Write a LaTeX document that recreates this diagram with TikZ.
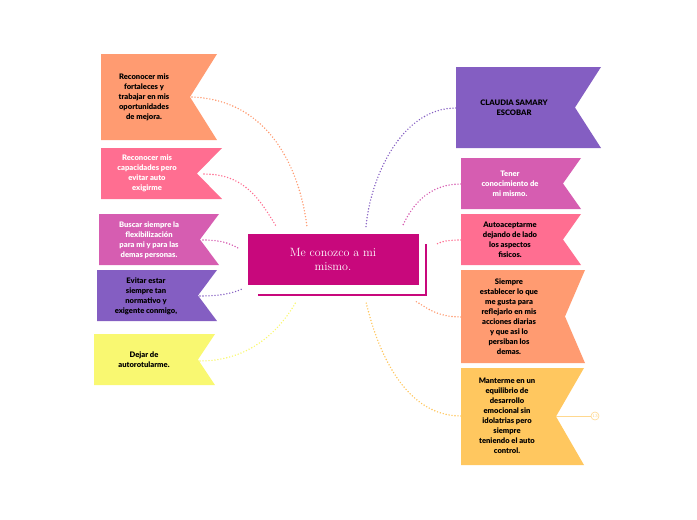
\documentclass[tikz,border=0pt]{standalone}
\usepackage{fontspec}
\setsansfont{Lato}
\newfontfamily\boxfont{Lato Black}
\begin{document}
\begin{tikzpicture}[x=1pt,y=-1pt,
  txt/.style={font=\boxfont\fontsize{7.6}{10}\selectfont,align=center,inner sep=0pt},
  conn/.style={line width=1.6pt,line cap=round,dash pattern=on 0pt off 3pt}]
\definecolor{cOr}{HTML}{FF9B71}
\definecolor{cPk}{HTML}{FF6E91}
\definecolor{cMg}{HTML}{D65DB1}
\definecolor{cPu}{HTML}{845EC2}
\definecolor{cYe}{HTML}{F9F871}
\definecolor{cYo}{HTML}{FFC75F}
\definecolor{cCe}{HTML}{C8087C}
\useasboundingbox (0,0) rectangle (697,520);
% ribbon: #1 color, x1,x2,y1,y2,notch x
\newcommand\ribbon[6]{\fill[#1] (#2,#4) -- (#3,#4) -- (#6,{(#4+#5)/2}) -- (#3,#5) -- (#2,#5) -- cycle;}
% left
\ribbon{cOr}{101}{217}{54}{140}{190}
\ribbon{cPk}{101}{222}{148}{199}{197}
\ribbon{cMg}{99}{219}{214}{265}{200}
\ribbon{cPu}{97}{217}{270}{321}{198}
\ribbon{cYe}{94}{215}{334}{385}{198}
% right
\ribbon{cPu}{456}{601}{67}{148}{575}
\ribbon{cMg}{461}{581}{158}{209}{563}
\ribbon{cPk}{461}{581}{214}{265}{563}
\ribbon{cOr}{461}{585}{270}{363}{565}
\ribbon{cYo}{461}{584}{368}{465}{556}
% central
\draw[cCe,line width=2.5pt] (258,295) -- (426,295) -- (426,244);
\fill[cCe] (248,234) rectangle (419,285);
\node[font=\fontsize{12}{14}\selectfont,text=white,align=center] (c) at (333,259) {Me conozco a mi\\mismo.};
% text
\node[txt] (l1) at (144,97) {Reconocer mis\\fortaleces y\\trabajar en mis\\oportunidades\\de mejora.};
\node[txt,text=white] (l2) at (147,173) {Reconocer mis\\capacidades pero\\evitar auto\\exigirme};
\node[txt,text=white] (l3) at (149,240) {Buscar siempre la\\flexibilización\\para mi y para las\\demas personas.};
\node[txt] (l4) at (146,296) {Evitar estar\\siempre tan\\normativo y\\exigente conmigo,};
\node[txt] (l5) at (144,360) {Dejar de\\autorotularme.};
\node[txt] (r1) at (514,108) {CLAUDIA SAMARY\\ESCOBAR};
\node[txt,text=white] (r2) at (510,184) {Tener\\conocimiento de\\mi mismo.};
\node[txt] (r3) at (510,240) {Autoaceptarme\\dejando de lado\\los aspectos\\fisicos.};
\node[txt] (r4) at (509,317) {Siempre\\establecer lo que\\me gusta para\\reflejarlo en mis\\acciones diarias\\y que asi lo\\persiban los\\demas.};
\node[txt] (r5) at (507,416) {Manterme en un\\equilibrio de\\desarrollo\\emocional sin\\idolatrias pero\\siempre\\teniendo el auto\\control.};
% anchors
\coordinate (a1) at (192,97); \coordinate (b1) at (307,227);
\coordinate (a2) at (204,174); \coordinate (b2) at (276,226);
\coordinate (a3) at (203,240); \coordinate (b3) at (240,249);
\coordinate (a4) at (200,296); \coordinate (b4) at (242,289);
\coordinate (a5) at (200,361); \coordinate (b5) at (296,302);
\coordinate (p1) at (456,108); \coordinate (q1) at (366,227);
\coordinate (p2) at (461,184); \coordinate (q2) at (402,227);
\coordinate (p3) at (461,240); \coordinate (q3) at (435,245);
\coordinate (p4) at (461,317); \coordinate (q4) at (415,301);
\coordinate (p5) at (461,416); \coordinate (q5) at (366,302);
\draw[conn,cOr] (a1) .. controls (270,100) and (300,170) .. (b1);
\draw[conn,cPk] (a2) .. controls (245,174) and (260,200) .. (b2);
\draw[conn,cMg] (a3) .. controls (225,240) and (232,245) .. (b3);
\draw[conn,cPu] (a4) .. controls (225,296) and (235,292) .. (b4);
\draw[conn,cYe] (a5) .. controls (250,361) and (280,330) .. (b5);
\draw[conn,cPu] (p1) .. controls (400,108) and (370,180) .. (q1);
\draw[conn,cMg] (p2) .. controls (425,184) and (410,210) .. (q2);
\draw[conn,cPk] (p3) .. controls (445,240) and (440,242) .. (q3);
\draw[conn,cOr] (p4) .. controls (435,317) and (425,306) .. (q4);
\draw[conn,cYo] (p5) .. controls (400,416) and (375,340) .. (q5);
\coordinate (t5) at (556,416);
\node[draw=cYo!70,circle,inner sep=0pt,minimum size=8pt,line width=0.6pt,font=\fontsize{4}{4}\selectfont,text=cYo] (k) at (595,416) {13};
\draw[cYo!70,line width=1pt] (t5) -- (k);
\end{tikzpicture}
\end{document}
